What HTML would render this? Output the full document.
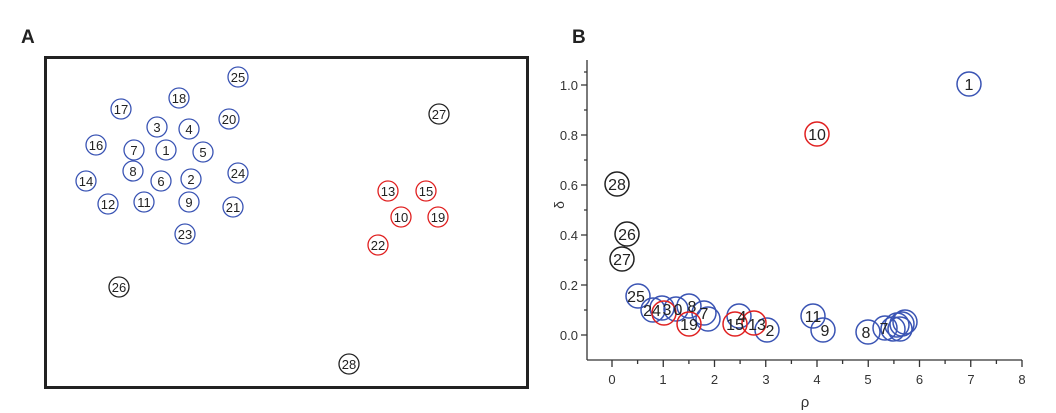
<!DOCTYPE html><html><head><style>body{margin:0;background:#fff}svg{display:block}text{font-family:"Liberation Sans",sans-serif}</style></head><body>
<svg width="1056" height="413" xmlns="http://www.w3.org/2000/svg">
<text x="21" y="43" font-size="19" font-weight="bold" fill="#222">A</text>
<text x="572" y="43" font-size="19" font-weight="bold" fill="#222">B</text>
<rect x="45.5" y="57.5" width="482" height="330" fill="none" stroke="#222" stroke-width="3"/>
<g font-size="13" text-anchor="middle" fill="#222" stroke-width="1.3">
<g stroke="#3a54b4" fill="none">
<circle cx="238" cy="77" r="10"/><circle cx="179" cy="98" r="10"/><circle cx="121" cy="109" r="10"/><circle cx="229" cy="119" r="10"/><circle cx="157" cy="127" r="10"/><circle cx="189" cy="129" r="10"/><circle cx="96" cy="145" r="10"/><circle cx="134" cy="150" r="10"/><circle cx="166" cy="150" r="10"/><circle cx="203" cy="152" r="10"/><circle cx="238" cy="173" r="10"/><circle cx="133" cy="171" r="10"/><circle cx="161" cy="181" r="10"/><circle cx="191" cy="179" r="10"/><circle cx="86" cy="181" r="10"/><circle cx="108" cy="204" r="10"/><circle cx="144" cy="202" r="10"/><circle cx="189" cy="202" r="10"/><circle cx="233" cy="207" r="10"/><circle cx="185" cy="234" r="10"/>
</g>
<g stroke="#e02020" fill="none"><circle cx="388" cy="191" r="10"/><circle cx="426" cy="191" r="10"/><circle cx="401" cy="217" r="10"/><circle cx="438" cy="217" r="10"/><circle cx="378" cy="245" r="10"/></g>
<g stroke="#222" fill="none"><circle cx="439" cy="114" r="10"/><circle cx="119" cy="287" r="10"/><circle cx="349" cy="364" r="10"/></g>
<g>
<text x="238" y="82">25</text><text x="179" y="103">18</text><text x="121" y="114">17</text><text x="229" y="124">20</text><text x="157" y="132">3</text><text x="189" y="134">4</text><text x="96" y="150">16</text><text x="134" y="155">7</text><text x="166" y="155">1</text><text x="203" y="157">5</text><text x="238" y="178">24</text><text x="133" y="176">8</text><text x="161" y="186">6</text><text x="191" y="184">2</text><text x="86" y="186">14</text><text x="108" y="209">12</text><text x="144" y="207">11</text><text x="189" y="207">9</text><text x="233" y="212">21</text><text x="185" y="239">23</text>
<text x="388" y="196">13</text><text x="426" y="196">15</text><text x="401" y="222">10</text><text x="438" y="222">19</text><text x="378" y="250">22</text>
<text x="439" y="119">27</text><text x="119" y="292">26</text><text x="349" y="369">28</text>
</g></g>
<g stroke="#333" stroke-width="1.3" fill="none">
<path d="M587 60V360M587 360H1022"/>
<path d="M581 85H587M581 135H587M581 185H587M581 235H587M581 285H587M581 335H587M584 110H587M584 160H587M584 210H587M584 260H587M584 310H587M584 72H587"/>
<path d="M612 360v7M663.25 360v7M714.5 360v7M765.75 360v7M817 360v7M868.25 360v7M919.5 360v7M970.75 360v7M1022 360v7M637.6 360v4M688.9 360v4M740.1 360v4M791.4 360v4M842.6 360v4M893.9 360v4M945.1 360v4M996.4 360v4"/>
</g>
<g font-size="13" fill="#333" text-anchor="end">
<text x="578" y="90">1.0</text><text x="578" y="140">0.8</text><text x="578" y="190">0.6</text><text x="578" y="240">0.4</text><text x="578" y="290">0.2</text><text x="578" y="340">0.0</text>
</g>
<g font-size="13" fill="#333" text-anchor="middle">
<text x="612" y="384">0</text><text x="663" y="384">1</text><text x="714.5" y="384">2</text><text x="766" y="384">3</text><text x="817" y="384">4</text><text x="868" y="384">5</text><text x="919.5" y="384">6</text><text x="971" y="384">7</text><text x="1022" y="384">8</text>
<text x="805" y="407" font-size="15">ρ</text>
<text x="0" y="0" font-size="14" transform="translate(564,205) rotate(-90)">δ</text>
</g>
<g font-size="16" text-anchor="middle" fill="#222" stroke-width="1.5">
<g fill="none" stroke="#3a54b4">
<circle cx="969" cy="84" r="12"/><circle cx="638" cy="296" r="12"/><circle cx="653" cy="310" r="12"/><circle cx="662" cy="308" r="12"/><circle cx="676" cy="309" r="12"/><circle cx="689" cy="306" r="12"/><circle cx="704" cy="313" r="12"/><circle cx="708" cy="319" r="12"/><circle cx="739" cy="316" r="12"/><circle cx="767" cy="330" r="12"/><circle cx="813" cy="316" r="12"/><circle cx="823" cy="330" r="12"/><circle cx="868" cy="332" r="12"/><circle cx="885" cy="328" r="12"/><circle cx="893" cy="329" r="12"/><circle cx="897" cy="325" r="12"/><circle cx="900" cy="329" r="12"/><circle cx="902" cy="324" r="12"/><circle cx="905" cy="322" r="12"/>
</g>
<g fill="none" stroke="#e02020"><circle cx="817" cy="134" r="12"/><circle cx="664" cy="313" r="12"/><circle cx="689" cy="324" r="12"/><circle cx="735" cy="324" r="12"/><circle cx="754" cy="323" r="12"/></g>
<g fill="none" stroke="#222"><circle cx="617" cy="184" r="12"/><circle cx="627" cy="234" r="12"/><circle cx="622" cy="259" r="12"/></g>
<text x="969" y="90">1</text><text x="817" y="140">10</text><text x="617" y="190">28</text><text x="627" y="240">26</text><text x="622" y="265">27</text><text x="636" y="302">25</text><text x="652" y="316">24</text><text x="667" y="315">3</text><text x="678" y="315">0</text><text x="692" y="312">8</text><text x="704" y="319">7</text><text x="689" y="330">19</text><text x="742" y="322">4</text><text x="735" y="330">15</text><text x="757" y="330">13</text><text x="770" y="336">2</text><text x="813" y="322">11</text><text x="825" y="336">9</text><text x="866" y="338">8</text><text x="884" y="334">7</text>
</g>
</svg></body></html>
